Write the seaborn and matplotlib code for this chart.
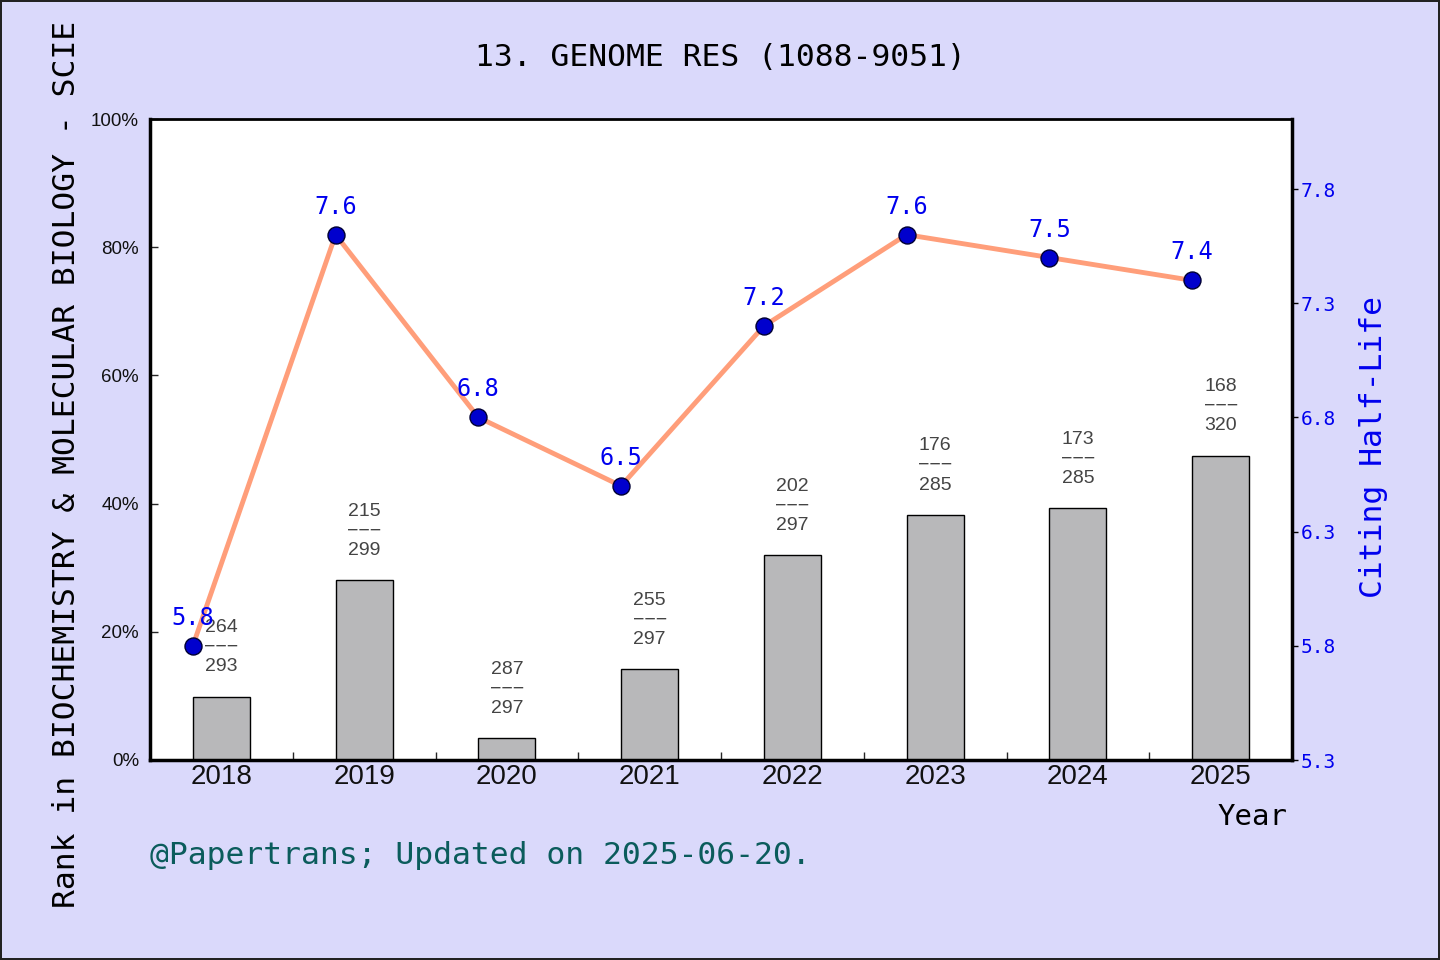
import numpy as np
import pandas as pd
import matplotlib.pyplot as plt
import seaborn as sns
from matplotlib.ticker import PercentFormatter, FixedLocator

# 数据
years = ['2018', '2019', '2020', '2021', '2022', '2023', '2024', '2025']
rank = [264, 215, 287, 255, 202, 176, 173, 168]
total = [293, 299, 297, 297, 297, 285, 285, 320]
half_life = [5.8, 7.6, 6.8, 6.5, 7.2, 7.6, 7.5, 7.4]
half_ticks = [5.3, 5.8, 6.3, 6.8, 7.3, 7.8]

df = pd.DataFrame({'year': years, 'rank': rank, 'total': total, 'half': half_life})
df['pct'] = 1 - df['rank'] / df['total']

sns.set_theme(style='white')
mono = ['DejaVu Sans Mono', 'Noto Sans CJK SC']
sans = ['Liberation Sans', 'DejaVu Sans']
plt.rcParams['font.family'] = sans

bg = '#DAD9FB'
fig = plt.figure(figsize=(14.4, 9.6), dpi=100, facecolor=bg, edgecolor='#222222', linewidth=1.5)
ax = fig.add_axes([150 / 1440, 1 - 760 / 960, 1142 / 1440, 641 / 960])
ax.set_facecolor('white')

# 柱状图
sns.barplot(data=df, x='year', y='pct', color='#B8B8BA', edgecolor='black',
            linewidth=1, width=0.4, saturation=1, ax=ax)
ax.set_xlim(-0.5, 7.5)
ax.set_ylim(0, 1)
ax.yaxis.set_major_locator(FixedLocator([0, 0.2, 0.4, 0.6, 0.8, 1.0]))
ax.yaxis.set_major_formatter(PercentFormatter(1.0, decimals=0))
ax.tick_params(axis='y', direction='in', length=6, width=1, labelsize=13.5, pad=8,
               left=True, labelcolor='#111111')
ax.tick_params(axis='x', which='major', length=0, labelsize=20, pad=3, labelcolor='#111111')
ax.set_xticks(np.arange(0.5, 7.5, 1), minor=True)
ax.tick_params(axis='x', which='minor', direction='in', length=6, width=1, bottom=True)
ax.set_xlabel('')
ax.set_ylabel('')

# 排名标注
for i, row in df.iterrows():
    ax.text(i, row['pct'] + 0.033, f"{row['rank']}\n\u2212\u2212\u2212\n{row['total']}",
            ha='center', va='bottom', fontsize=14, color='#444444',
            linespacing=1.2, family=sans, zorder=3)

for s in ['left', 'bottom', 'right']:
    ax.spines[s].set_linewidth(2.5)
    ax.spines[s].set_color('black')
ax.spines['top'].set_linewidth(2)
ax.spines['top'].set_color('black')

# 半衰期折线
ax2 = ax.twinx()
xpos = np.arange(len(years)) - 0.2
sns.lineplot(x=xpos, y=df['half'], color='#FF9E7A', linewidth=3.5, ax=ax2, zorder=2)
ax2.scatter(xpos, df['half'], s=150, color='#0000CD', edgecolor='#000033',
            linewidth=1, zorder=4)
for x, v in zip(xpos, df['half']):
    ax2.text(x, v + 0.07, f'{v:.1f}', ha='center', va='bottom', fontsize=17,
             color='#0000EE', family=mono, zorder=5)
ax2.set_xlim(-0.5, 7.5)
ax2.set_ylim(5.3, 5.3 + 641 / 228.4)
ax2.set_yticks(half_ticks)
ax2.set_yticklabels([f'{t:.1f}' for t in half_ticks], family=mono)
ax2.tick_params(axis='y', direction='out', length=4, width=1, labelsize=14,
                colors='#0000EE', pad=2, right=True)
ax2.tick_params(axis='y', color='black')
ax2.set_ylabel('')
for s in ax2.spines.values():
    s.set_visible(False)

# 文字
fs = 22.6
fig.text(720 / 1440, 1 - 57 / 960, '13. GENOME RES (1088-9051)', ha='center', va='center',
         fontsize=fs, family=mono, color='black')
fig.text(67 / 1440, 1 - 464 / 960, 'Rank in BIOCHEMISTRY & MOLECULAR BIOLOGY - SCIE',
         rotation=90, ha='center', va='center', fontsize=fs, family=mono, color='black')
fig.text(1374 / 1440, 1 - 447 / 960, 'Citing Half-Life', rotation=90, ha='center',
         va='center', fontsize=fs, family=mono, color='#0000EE')
fig.text(1253 / 1440, 1 - 817 / 960, 'Year', ha='center', va='center', fontsize=21,
         family=mono, color='black')
fig.text(150 / 1440, 1 - 855 / 960, '@Papertrans; Updated on 2025-06-20.', ha='left',
         va='center', fontsize=fs, family=mono, color='#0B5C5C')

fig.savefig('out.png', dpi=100, facecolor=bg, edgecolor=fig.get_edgecolor())
